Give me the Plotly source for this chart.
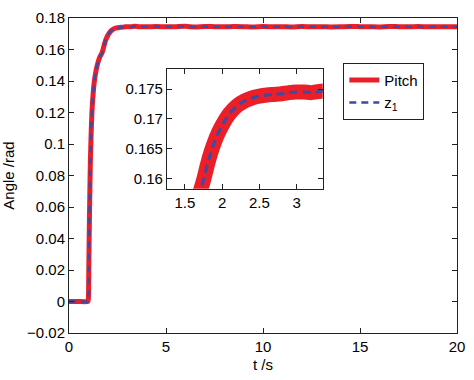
import plotly.graph_objects as go

# ---- data ----
t = [0, 0.5, 0.97, 1.0, 1.02, 1.05, 1.1, 1.15, 1.2, 1.3, 1.4, 1.5, 1.6, 1.7, 1.75,
     1.8, 1.85, 1.9, 1.95, 2.0, 2.05, 2.1, 2.2, 2.3, 2.4, 2.5, 2.6, 2.7, 2.8, 2.9,
     3.0, 3.1, 3.2, 3.3, 3.4, 3.6, 4.0, 4.5, 5.0, 5.5, 6.0, 6.5, 7.0, 7.5, 8.0, 8.5,
     9.0, 9.5, 10.0, 10.5, 11.0, 11.5, 12.0, 12.5, 13.0, 13.5, 14.0, 14.5, 15.0,
     15.5, 16.0, 16.5, 17.0, 17.5, 18.0, 18.5, 19.0, 19.5, 20.0]
pitch = [0, 0, 0, 0.002, 0.02, 0.05, 0.088, 0.11, 0.124, 0.139, 0.147, 0.152, 0.1555,
         0.1577, 0.1597, 0.1622, 0.1644, 0.1662, 0.1677, 0.1689, 0.1700, 0.1709,
         0.1722, 0.1730, 0.1735, 0.1738, 0.1740, 0.1741, 0.1742, 0.1744, 0.1745,
         0.1745, 0.1744, 0.1746, 0.1747, 0.1745, 0.1744, 0.1746, 0.1744, 0.1745,
         0.1747, 0.1743, 0.1746, 0.1745, 0.1744, 0.1746, 0.1745, 0.1743, 0.1746,
         0.1744, 0.1745, 0.1743, 0.1746, 0.1744, 0.1745, 0.1743, 0.1744, 0.1746,
         0.1745, 0.1744, 0.1743, 0.1746, 0.1745, 0.1744, 0.1746, 0.1744, 0.1745,
         0.1744, 0.1745]
z1 = list(pitch)

main_xticks = [0, 5, 10, 15, 20]
main_yticks = [-0.02, 0, 0.02, 0.04, 0.06, 0.08, 0.1, 0.12, 0.14, 0.16, 0.18]
inset_xticks = [1.5, 2, 2.5, 3]
inset_yticks = [0.16, 0.165, 0.17, 0.175]

RED = "#ec1f28"
BLUE = "#3d4ba3"
FONT = "Liberation Sans, Arial, sans-serif"
FS = 15

fig = go.Figure()
fig.add_trace(go.Scatter(x=t, y=pitch, mode="lines", name="Pitch",
                         line=dict(color=RED, width=5, simplify=False, shape="spline",
                                   smoothing=0.6)))
fig.add_trace(go.Scatter(x=t, y=z1, mode="lines", name="z<sub>1</sub>",
                         line=dict(color=BLUE, width=2.5, dash="7px,5px", simplify=False,
                                   shape="spline", smoothing=0.6)))
fig.add_trace(go.Scatter(x=t, y=pitch, mode="lines", showlegend=False,
                         xaxis="x2", yaxis="y2",
                         line=dict(color=RED, width=15, simplify=False, shape="spline",
                                   smoothing=0.6)))
fig.add_trace(go.Scatter(x=t, y=z1, mode="lines", showlegend=False,
                         xaxis="x2", yaxis="y2",
                         line=dict(color=BLUE, width=3, dash="8px,5px", simplify=False,
                                   shape="spline", smoothing=0.6)))

ax_common = dict(showline=True, linecolor="#222222", linewidth=1, mirror="ticks",
                 ticks="inside", ticklen=5, tickcolor="#222222", showgrid=False,
                 zeroline=False, tickfont=dict(size=FS, color="black", family=FONT))

fig.update_layout(
    width=474, height=380,
    margin=dict(l=67, r=11, t=9, b=39),
    paper_bgcolor="white", plot_bgcolor="white",
    font=dict(family=FONT, color="black", size=FS),
    xaxis=dict(range=[0, 20], tickvals=main_xticks, domain=[0, 1],
               title=dict(text="t /s", font=dict(size=FS), standoff=5), **ax_common),
    yaxis=dict(range=[-0.02, 0.18], tickvals=main_yticks, domain=[0, 1],
               title=dict(text="Angle /rad", font=dict(size=FS), standoff=8), **ax_common),
    xaxis2=dict(range=[1.26, 3.35], tickvals=inset_xticks, domain=[0.2525, 0.654],
                anchor="y2", **ax_common),
    yaxis2=dict(range=[0.1583, 0.1783], tickvals=inset_yticks, domain=[0.458, 0.837],
                anchor="x2", **ax_common),
    legend=dict(x=0.707, y=0.858, xanchor="left", yanchor="top",
                bordercolor="#222222", borderwidth=1, bgcolor="white",
                font=dict(size=FS, family=FONT), tracegroupgap=0),
    showlegend=True,
)
fig.add_shape(type="rect", xref="x2 domain", yref="y2 domain", x0=0, x1=1, y0=0, y1=1,
              fillcolor="white", line=dict(width=0), layer="below")

fig.write_html("out.html", config={"displayModeBar": False},
               post_script="document.body.style.margin='0px';")
